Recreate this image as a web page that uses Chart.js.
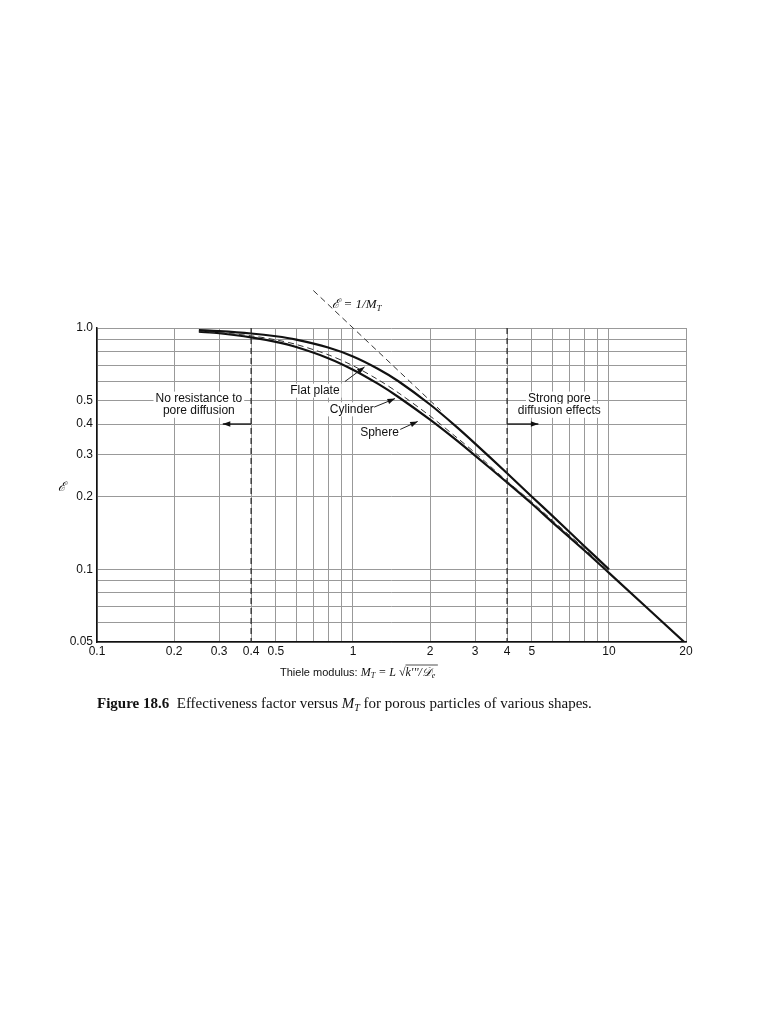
<!DOCTYPE html>
<html><head><meta charset="utf-8">
<script src="https://cdn.jsdelivr.net/npm/chart.js@4/dist/chart.umd.min.js"></script>
<style>html,body{margin:0;padding:0;background:#fff}#wrap{width:768px;height:1024px;position:relative}</style>
</head><body><div id="wrap"><canvas id="c"></canvas></div>
<script>
const moduli = [0.25,0.3,0.4,0.5,0.6,0.8,1,1.25,1.5,2,2.5,3,4,5,6,8,10];
const flatPlate = [0.980,0.971,0.949,0.924,0.895,0.830,0.762,0.678,0.603,0.482,0.395,0.332,0.250,0.200,0.167,0.125,0.100];
const cylinder  = [0.970,0.957,0.928,0.893,0.855,0.775,0.698,0.612,0.540,0.432,0.357,0.304,0.232,0.190,0.160,0.122,0.0974];
const sphereX = [0.25,0.3,0.4,0.5,0.6,0.8,1,1.25,1.5,2,2.5,3,4,5,6,8,10,20];
const sphere    = [0.965,0.951,0.915,0.876,0.834,0.750,0.672,0.588,0.519,0.417,0.347,0.296,0.229,0.187,0.157,0.120,0.0967,0.0492];
const asymX = [0.7,2.2];
const asymY = [1.43,0.455];
const xGrid = [0.1,0.2,0.3,0.4,0.5,0.6,0.7,0.8,0.9,1,2,3,4,5,6,7,8,9,10,20];
const xLabels = [0.1,0.2,0.3,0.4,0.5,1,2,3,4,5,10,20];
const yGrid = [0.05,0.06,0.07,0.08,0.09,0.1,0.2,0.3,0.4,0.5,0.6,0.7,0.8,0.9,1.0];
const yLabels = [0.05,0.1,0.2,0.3,0.4,0.5,1.0];

const pts = (xs,ys)=>xs.map((x,i)=>({x:x,y:ys[i]}));
const F='"Liberation Sans", Arial, sans-serif';

const annot = {
  id:'annot',
  afterDatasetsDraw(ch){
    const c=ch.ctx, xs=ch.scales.x, ys=ch.scales.y;
    const X=v=>xs.getPixelForValue(v), Y=v=>ys.getPixelForValue(v);
    c.save();
    c.strokeStyle='#222'; c.lineWidth=1.2; c.setLineDash([6,4]);
    [0.4,4].forEach(v=>{c.beginPath();c.moveTo(X(v),Y(1.0));c.lineTo(X(v),Y(0.05));c.stroke();});
    c.setLineDash([]);
    c.fillStyle='#111'; c.font='12px '+F; c.textAlign='center'; c.textBaseline='middle';
    const box=(t,x,y)=>{const w=c.measureText(t).width;c.fillStyle='#fff';c.fillRect(X(x)-w/2-2,Y(y)-7,w+4,14);c.fillStyle='#111';c.fillText(t,X(x),Y(y));};
    box('No resistance to',0.25,0.51); box('pore diffusion',0.25,0.454);
    box('Strong pore',6.4,0.51); box('diffusion effects',6.4,0.454);
    box('Flat plate',0.71,0.55); box('Cylinder',0.99,0.46); box('Sphere',1.27,0.37);
    const arrow=(x1,y1,x2,y2)=>{const a=X(x1),b=Y(y1),p=X(x2),q=Y(y2);c.beginPath();c.moveTo(a,b);c.lineTo(p,q);c.stroke();
      const ang=Math.atan2(q-b,p-a);c.beginPath();c.moveTo(p,q);c.lineTo(p-8*Math.cos(ang-0.35),q-8*Math.sin(ang-0.35));c.lineTo(p-8*Math.cos(ang+0.35),q-8*Math.sin(ang+0.35));c.closePath();c.fillStyle='#111';c.fill();};
    c.lineWidth=1.5;
    arrow(0.4,0.4,0.31,0.4); arrow(4,0.4,5.3,0.4);
    c.lineWidth=1;
    arrow(0.93,0.60,1.11,0.69); arrow(1.21,0.47,1.46,0.51); arrow(1.53,0.38,1.79,0.41);
    c.font='italic 13px "Liberation Serif", serif'; c.textAlign='left';
    c.fillText('ℰ = 1/M',X(0.83),Y(1.25)); const w=c.measureText('ℰ = 1/M').width;
    c.font='italic 9px "Liberation Serif", serif'; c.fillText('T',X(0.83)+w,Y(1.25)+4);
    // axis titles
    c.font='italic 13px "Liberation Serif", serif'; c.textAlign='center'; c.fillText('ℰ',62,488);
    c.font='11px '+F; c.textAlign='left';
    let x0=280,y0=673;
    const seg=(t,f,dy)=>{c.font=f;c.fillText(t,x0,y0+(dy||0));x0+=c.measureText(t).width;};
    seg('Thiele modulus: ','11px '+F); seg('M','italic 12px "Liberation Serif", serif'); seg('T','italic 8px "Liberation Serif", serif',3);
    seg(' = L ','italic 12px "Liberation Serif", serif'); seg('√','12px "Liberation Serif", serif');
    const sx=x0; seg("k'''/𝒟",'italic 12px "Liberation Serif", serif');
    c.beginPath();c.moveTo(sx,y0-8);c.lineTo(x0+6,y0-8);c.lineWidth=0.8;c.stroke();
    seg('e','italic 8px "Liberation Serif", serif',3);
    // caption
    x0=97;y0=704;
    seg('Figure 18.6','bold 15px "Liberation Serif", serif'); seg('  Effectiveness factor versus ','15px "Liberation Serif", serif');
    seg('M','italic 15px "Liberation Serif", serif'); seg('T','italic 10px "Liberation Serif", serif',4);
    seg(' for porous particles of various shapes.','15px "Liberation Serif", serif');
    c.restore();
  }
};

new Chart(document.getElementById('c'),{
  type:'line',
  data:{datasets:[
    {label:'Flat plate',data:pts(moduli,flatPlate),borderColor:'#111',borderWidth:2.2,pointRadius:0,tension:0.3},
    {label:'Cylinder',data:pts(moduli,cylinder),borderColor:'#333',borderWidth:1,borderDash:[6,4],pointRadius:0,tension:0.3},
    {label:'Sphere',data:pts(sphereX,sphere),borderColor:'#111',borderWidth:2.2,pointRadius:0,tension:0.3},
    {label:'1/M',data:pts(asymX,asymY),borderColor:'#333',borderWidth:1,borderDash:[6,4],pointRadius:0,clip:false}
  ]},
  options:{
    responsive:true,maintainAspectRatio:false,animation:false,
    layout:{padding:{left:0,top:328,right:82,bottom:322}},
    plugins:{legend:{display:false},tooltip:{enabled:false}},
    scales:{
      x:{type:'logarithmic',min:0.1,max:20,
        afterBuildTicks:s=>{s.ticks=xGrid.map(v=>({value:v}));},
        afterFit:s=>{s.height=60;},
        ticks:{autoSkip:false,maxRotation:0,color:'#111',font:{family:F,size:12},padding:2,
          callback:(v)=>xLabels.includes(v)?String(v):''},
        grid:{color:'#999',lineWidth:1,tickLength:0},border:{color:'#111',width:1.5}},
      y:{type:'logarithmic',min:0.05,max:1.0,
        afterBuildTicks:s=>{s.ticks=yGrid.map(v=>({value:v}));},
        afterFit:s=>{s.width=97;},
        ticks:{autoSkip:false,color:'#111',font:{family:F,size:12},padding:4,
          callback:(v)=>yLabels.includes(v)?(v===1?'1.0':String(v)):''},
        grid:{color:'#999',lineWidth:1,tickLength:0},border:{color:'#111',width:1.5}}
    }
  },
  plugins:[annot]
});
</script></body></html>
